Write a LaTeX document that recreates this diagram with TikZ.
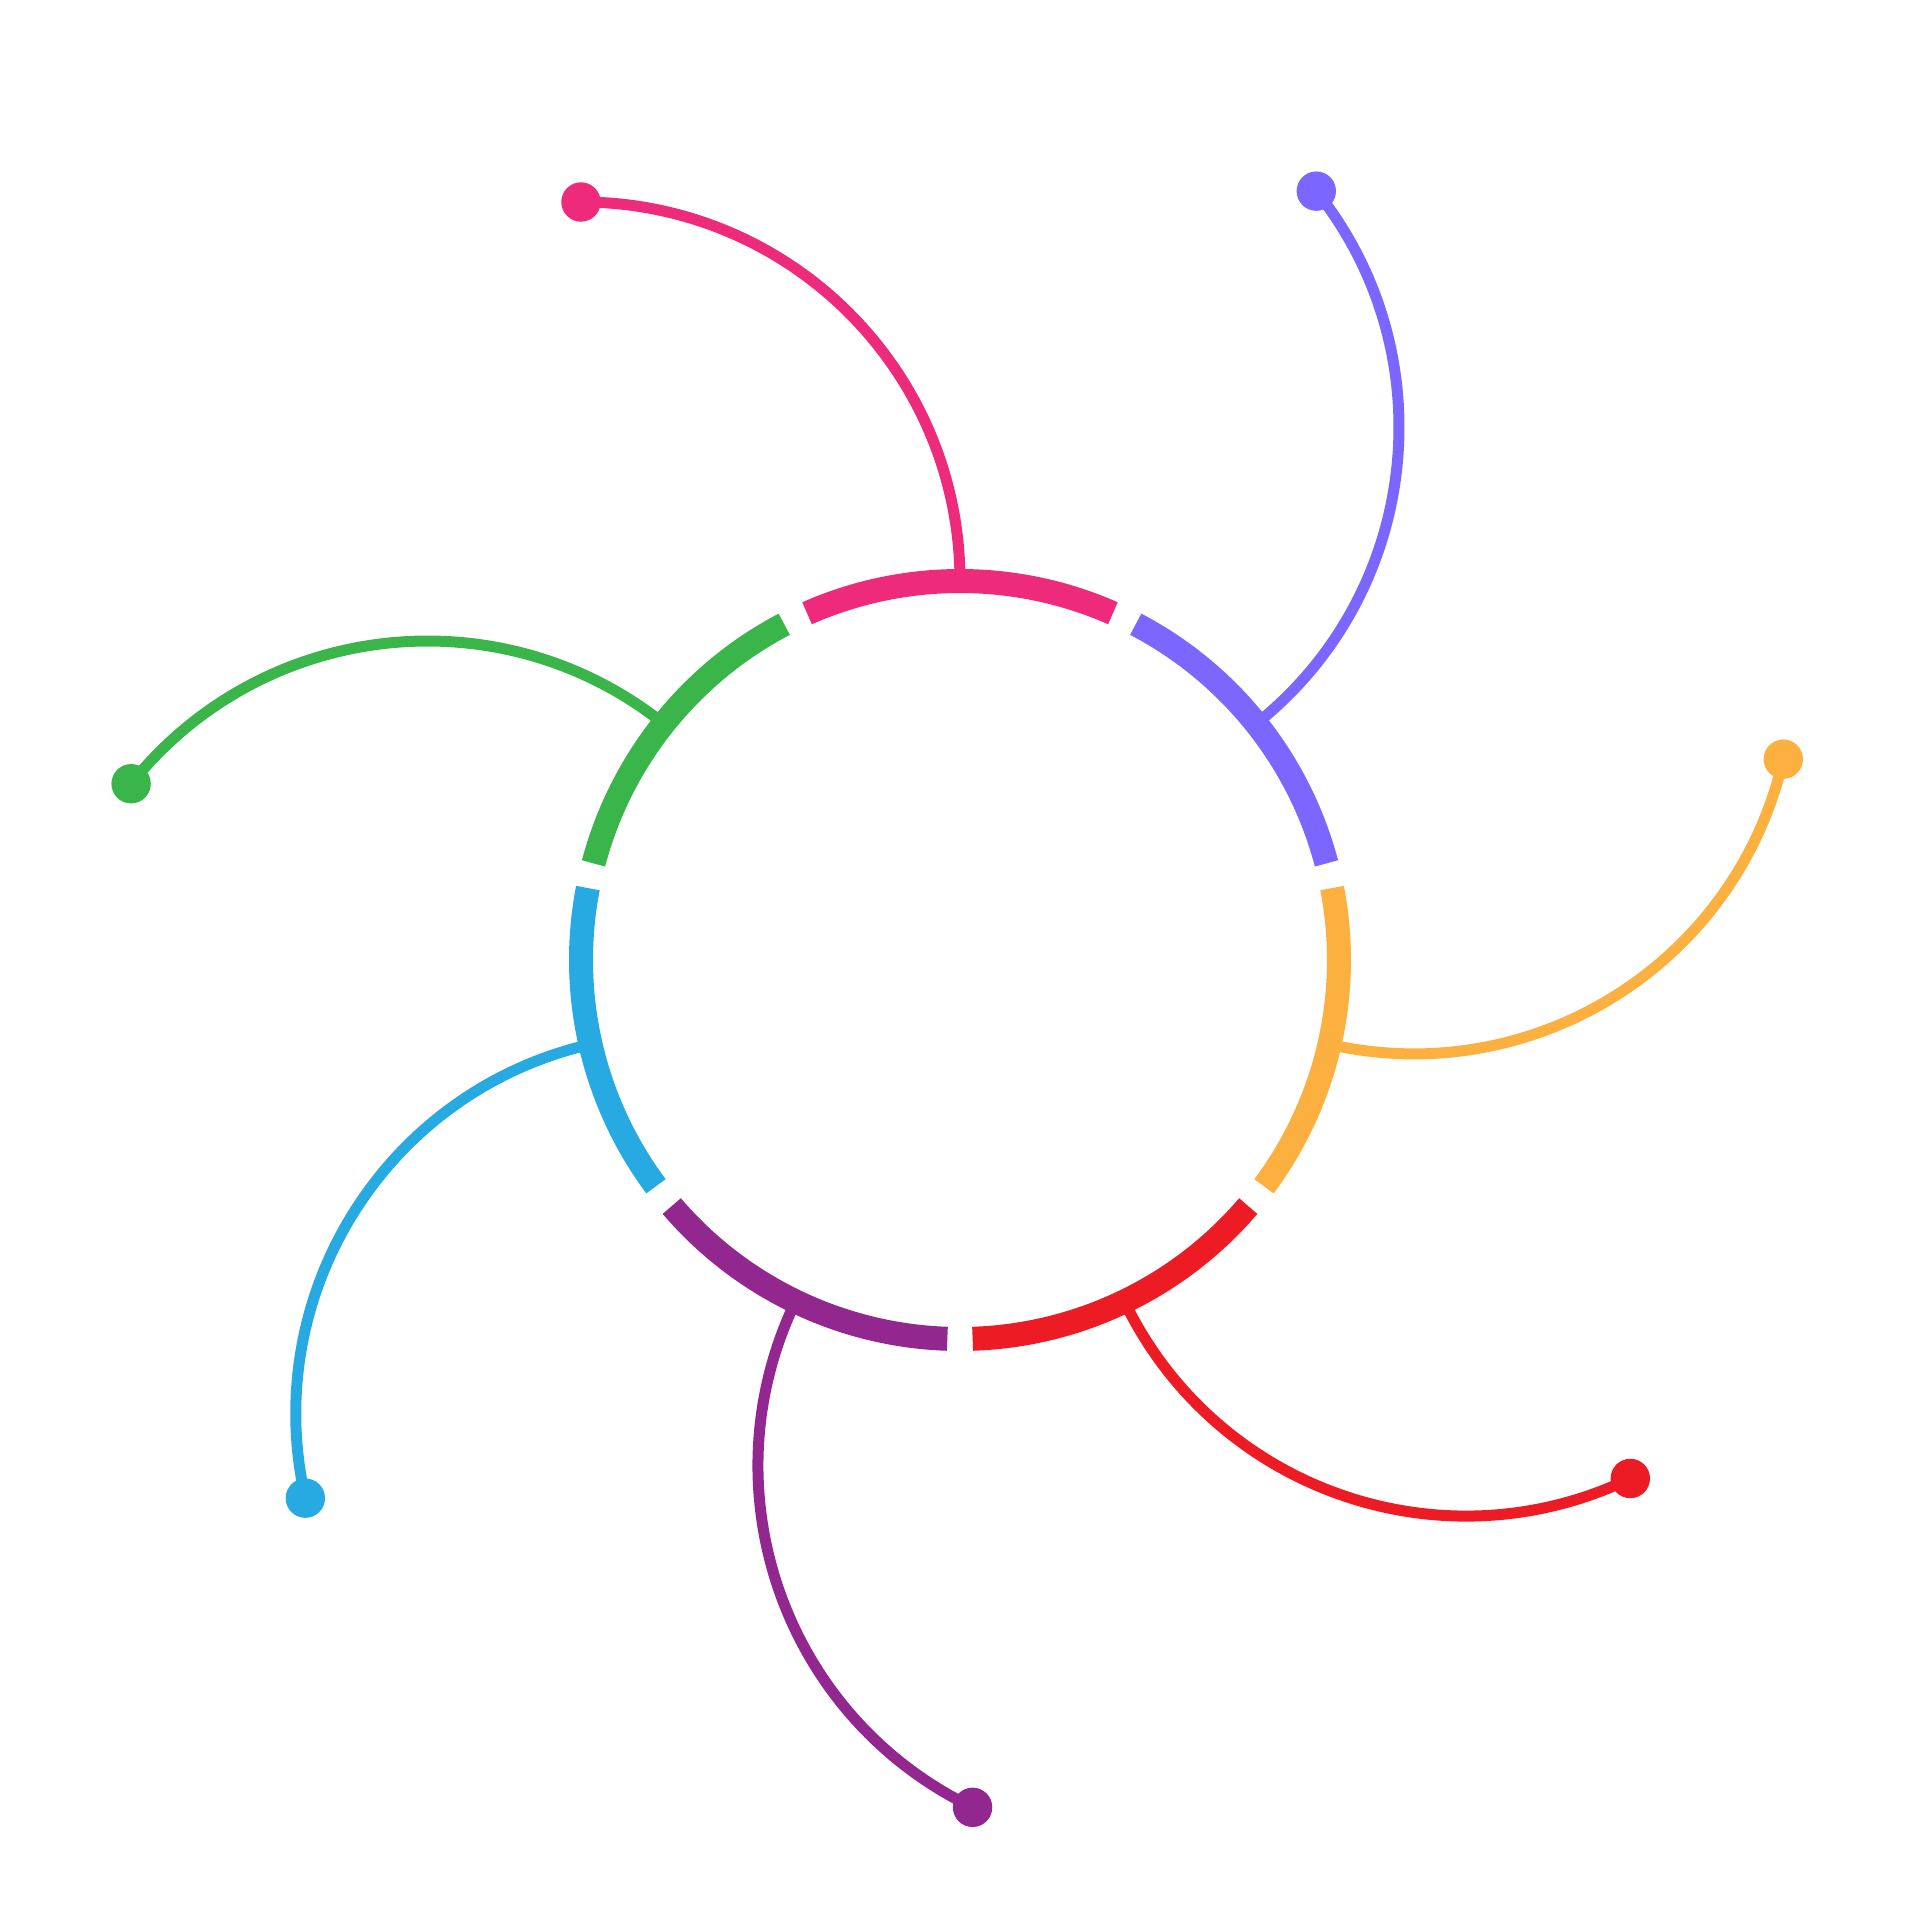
\documentclass[tikz,border=0pt]{standalone}
\usetikzlibrary{calc}
\definecolor{cpink}{HTML}{EE2A7B}
\definecolor{cviolet}{HTML}{7B66FF}
\definecolor{corange}{HTML}{FBB040}
\definecolor{cred}{HTML}{ED1C24}
\definecolor{cpurple}{HTML}{92278F}
\definecolor{cblue}{HTML}{27AAE1}
\definecolor{cgreen}{HTML}{39B54A}
\begin{document}
\begin{tikzpicture}[x=0.1mm,y=0.1mm,
  seg/.style={line width=2.4mm, line cap=butt},
  link/.style={line width=1.1mm},
  dot/.style={circle, fill, draw=none, inner sep=0pt, minimum size=3.94mm}]
\useasboundingbox (-960,-960) rectangle (960,960);
\foreach \a/\c/\n in {90/cpink/1, 38.571/cviolet/2, -12.857/corange/3, -64.286/cred/4, -115.714/cpurple/5, -167.143/cblue/6, 141.429/cgreen/7} {
  \draw[seg,\c] ({\a-23.8}:379) arc[start angle={\a-23.8}, end angle={\a+23.8}, radius=379];
  \coordinate (s\n) at (\a:379);
  \draw[link,\c] (s\n) arc[start angle={\a-90}, end angle=\a, radius=379];
  \node[dot,\c] (d\n) at ($(\a:758)+({\a+90}:379)$) {};
}
\end{tikzpicture}
\end{document}
